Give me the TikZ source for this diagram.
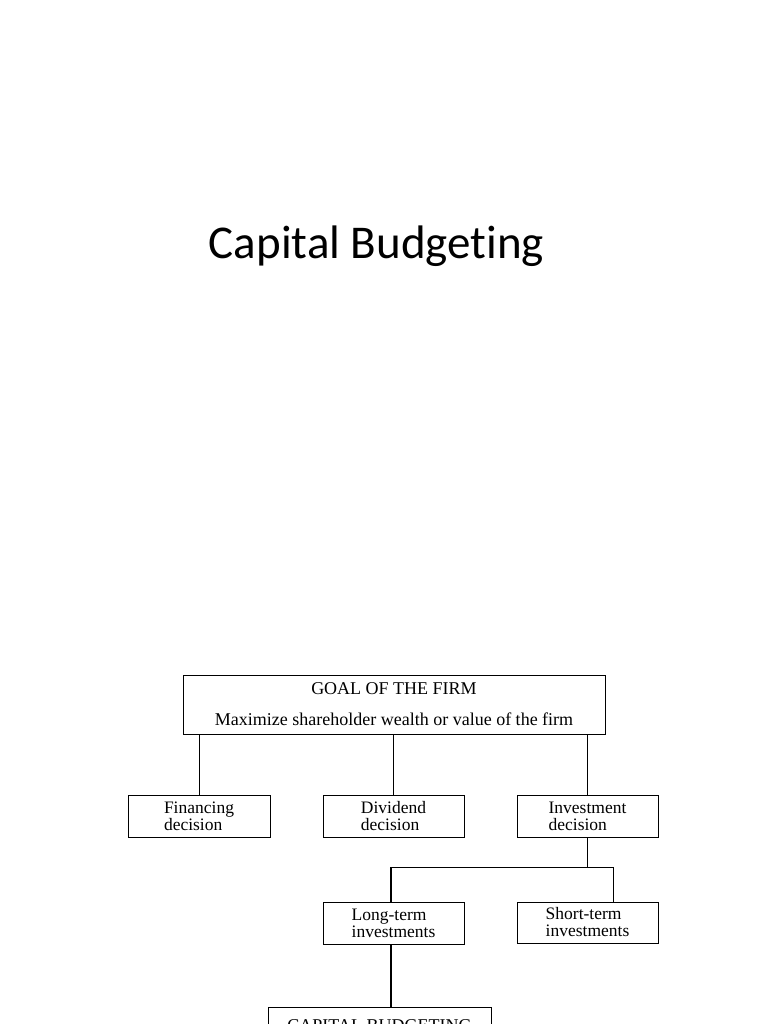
\documentclass[tikz,border=0pt]{standalone}
\usepackage{fontspec}
\setmainfont{Liberation Serif}
\newfontfamily\titlefont[Ligatures=NoCommon]{Carlito}
\begin{document}
\begin{tikzpicture}[x=1pt,y=-1pt,
  box/.style={draw=black,line width=0.9pt,inner sep=0pt,align=left,
    font=\fontsize{17.5}{17}\selectfont},
  thin/.style={draw=black,line width=0.9pt},
  thick/.style={draw=black,line width=1.8pt}]
\useasboundingbox (0,0) rectangle (768,1024);
\clip (0,0) rectangle (768,1024);
\fill[white] (0,0) rectangle (768,1024);
\node[anchor=base,font=\titlefont\fontsize{47}{50}\selectfont] (title) at (376.5,258.5) {Capital Budgeting};
\node[box,align=center,minimum width=422pt,minimum height=59pt,
  font=\fontsize{18}{17}\selectfont] (goal) at (394,704.5)
  {\raisebox{3pt}{GOAL OF THE FIRM}\\[11pt]Maximize shareholder wealth or value of the firm};
\node[box,minimum width=142pt,minimum height=42pt] (fin) at (199,816.5) {Financing\\decision};
\node[box,minimum width=141pt,minimum height=42pt] (div) at (393.5,816.5) {Dividend\\decision};
\node[box,minimum width=141pt,minimum height=42pt] (inv) at (587.5,816.5) {Investment\\decision};
\node[box,minimum width=141pt,minimum height=42pt] (lt) at (393.5,923) {Long-term\\investments};
\node[box,minimum width=141pt,minimum height=41pt] (st) at (587.5,922.5) {Short-term\\investments};
\node[box,align=center,minimum width=223pt,minimum height=60pt,text depth=0pt,
  font=\fontsize{18}{17}\selectfont] (cb) at (379.5,1037)
  {\raisebox{22pt}{CAPITAL BUDGETING}};
\coordinate (ltin) at (391,867);
\coordinate (stin) at (613,867);
\draw[thin] (fin.north |- goal.south) -- (fin.north);
\draw[thin] (div.north |- goal.south) -- (div.north);
\draw[thin] (inv.north |- goal.south) -- (inv.north);
\draw[thin] (inv.south) -- (inv.south |- ltin);
\draw[thin] (ltin) -- (stin);
\draw[thick] (ltin) -- (ltin |- lt.north);
\draw[thin] (stin) -- (stin |- st.north);
\draw[thick] (ltin |- lt.south) -- (ltin |- cb.north);
\end{tikzpicture}
\end{document}
